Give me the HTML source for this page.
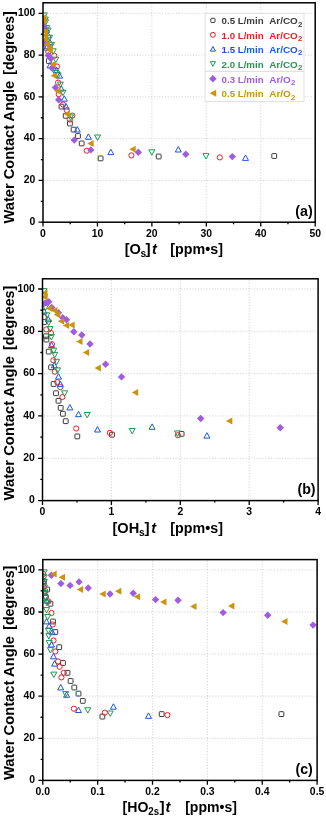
<!DOCTYPE html>
<html><head><meta charset="utf-8"><title>Water contact angle</title>
<style>html,body{margin:0;padding:0;background:#fff;}svg{display:block;font-family:'Liberation Sans', Arial, sans-serif;}</style>
</head><body>
<svg width="326" height="817" viewBox="0 0 326 817">
<rect width="326" height="817" fill="#fff"/>
<path d="M97.44 3.80V221.20M151.88 3.80V221.20M206.32 3.80V221.20M260.76 3.80V221.20M44.50 180.42H313.70M44.50 138.64H313.70M44.50 96.86H313.70M44.50 55.08H313.70M44.50 13.30H313.70" stroke="#cdcdcd" stroke-width="0.9" stroke-dasharray="1.1 1.7" fill="none"/>
<clipPath id="ca"><rect x="43.20" y="2.80" width="271.80" height="219.40"/></clipPath>
<g clip-path="url(#ca)">
<rect x="45.10" y="43.60" width="4.80" height="4.80" rx="0.6" fill="none" stroke="#3a3a3a" stroke-width="1.0"/>
<rect x="46.50" y="58.60" width="4.80" height="4.80" rx="0.6" fill="none" stroke="#3a3a3a" stroke-width="1.0"/>
<rect x="59.10" y="104.20" width="4.80" height="4.80" rx="0.6" fill="none" stroke="#3a3a3a" stroke-width="1.0"/>
<rect x="63.30" y="113.40" width="4.80" height="4.80" rx="0.6" fill="none" stroke="#3a3a3a" stroke-width="1.0"/>
<rect x="67.50" y="121.10" width="4.80" height="4.80" rx="0.6" fill="none" stroke="#3a3a3a" stroke-width="1.0"/>
<rect x="71.20" y="127.20" width="4.80" height="4.80" rx="0.6" fill="none" stroke="#3a3a3a" stroke-width="1.0"/>
<rect x="75.60" y="133.60" width="4.80" height="4.80" rx="0.6" fill="none" stroke="#3a3a3a" stroke-width="1.0"/>
<rect x="79.30" y="141.00" width="4.80" height="4.80" rx="0.6" fill="none" stroke="#3a3a3a" stroke-width="1.0"/>
<rect x="98.20" y="156.00" width="4.80" height="4.80" rx="0.6" fill="none" stroke="#3a3a3a" stroke-width="1.0"/>
<rect x="156.30" y="154.10" width="4.80" height="4.80" rx="0.6" fill="none" stroke="#3a3a3a" stroke-width="1.0"/>
<rect x="271.80" y="153.60" width="4.80" height="4.80" rx="0.6" fill="none" stroke="#3a3a3a" stroke-width="1.0"/>
<circle cx="44.50" cy="30.00" r="2.60" fill="none" stroke="#f01c24" stroke-width="1.0"/>
<circle cx="48.30" cy="52.00" r="2.60" fill="none" stroke="#f01c24" stroke-width="1.0"/>
<circle cx="54.30" cy="55.80" r="2.60" fill="none" stroke="#f01c24" stroke-width="1.0"/>
<circle cx="57.00" cy="66.50" r="2.60" fill="none" stroke="#f01c24" stroke-width="1.0"/>
<circle cx="58.10" cy="82.60" r="2.60" fill="none" stroke="#f01c24" stroke-width="1.0"/>
<circle cx="58.70" cy="94.20" r="2.60" fill="none" stroke="#f01c24" stroke-width="1.0"/>
<circle cx="63.00" cy="104.50" r="2.60" fill="none" stroke="#f01c24" stroke-width="1.0"/>
<circle cx="66.80" cy="110.20" r="2.60" fill="none" stroke="#f01c24" stroke-width="1.0"/>
<circle cx="72.30" cy="115.60" r="2.60" fill="none" stroke="#f01c24" stroke-width="1.0"/>
<circle cx="69.90" cy="119.50" r="2.60" fill="none" stroke="#f01c24" stroke-width="1.0"/>
<circle cx="86.80" cy="150.70" r="2.60" fill="none" stroke="#f01c24" stroke-width="1.0"/>
<circle cx="131.40" cy="155.40" r="2.60" fill="none" stroke="#f01c24" stroke-width="1.0"/>
<circle cx="219.80" cy="157.40" r="2.60" fill="none" stroke="#f01c24" stroke-width="1.0"/>
<path d="M46.60 26.90L49.60 32.30L43.60 32.30Z" fill="none" stroke="#1b55e0" stroke-width="1.0" stroke-linejoin="round"/>
<path d="M48.20 32.50L51.20 37.90L45.20 37.90Z" fill="none" stroke="#1b55e0" stroke-width="1.0" stroke-linejoin="round"/>
<path d="M49.80 39.30L52.80 44.70L46.80 44.70Z" fill="none" stroke="#1b55e0" stroke-width="1.0" stroke-linejoin="round"/>
<path d="M46.60 44.70L49.60 50.10L43.60 50.10Z" fill="none" stroke="#1b55e0" stroke-width="1.0" stroke-linejoin="round"/>
<path d="M50.00 62.50L53.00 67.90L47.00 67.90Z" fill="none" stroke="#1b55e0" stroke-width="1.0" stroke-linejoin="round"/>
<path d="M56.60 67.00L59.60 72.40L53.60 72.40Z" fill="none" stroke="#1b55e0" stroke-width="1.0" stroke-linejoin="round"/>
<path d="M59.60 72.70L62.60 78.10L56.60 78.10Z" fill="none" stroke="#1b55e0" stroke-width="1.0" stroke-linejoin="round"/>
<path d="M61.20 85.70L64.20 91.10L58.20 91.10Z" fill="none" stroke="#1b55e0" stroke-width="1.0" stroke-linejoin="round"/>
<path d="M64.30 95.80L67.30 101.20L61.30 101.20Z" fill="none" stroke="#1b55e0" stroke-width="1.0" stroke-linejoin="round"/>
<path d="M66.10 103.60L69.10 109.00L63.10 109.00Z" fill="none" stroke="#1b55e0" stroke-width="1.0" stroke-linejoin="round"/>
<path d="M77.30 126.60L80.30 132.00L74.30 132.00Z" fill="none" stroke="#1b55e0" stroke-width="1.0" stroke-linejoin="round"/>
<path d="M88.40 133.90L91.40 139.30L85.40 139.30Z" fill="none" stroke="#1b55e0" stroke-width="1.0" stroke-linejoin="round"/>
<path d="M110.80 149.20L113.80 154.60L107.80 154.60Z" fill="none" stroke="#1b55e0" stroke-width="1.0" stroke-linejoin="round"/>
<path d="M178.30 146.60L181.30 152.00L175.30 152.00Z" fill="none" stroke="#1b55e0" stroke-width="1.0" stroke-linejoin="round"/>
<path d="M245.50 155.00L248.50 160.40L242.50 160.40Z" fill="none" stroke="#1b55e0" stroke-width="1.0" stroke-linejoin="round"/>
<path d="M44.30 18.30L47.30 12.90L41.30 12.90Z" fill="none" stroke="#1e9a50" stroke-width="1.0" stroke-linejoin="round"/>
<path d="M45.40 22.50L48.40 17.10L42.40 17.10Z" fill="none" stroke="#1e9a50" stroke-width="1.0" stroke-linejoin="round"/>
<path d="M45.60 25.20L48.60 19.80L42.60 19.80Z" fill="none" stroke="#1e9a50" stroke-width="1.0" stroke-linejoin="round"/>
<path d="M46.80 31.00L49.80 25.60L43.80 25.60Z" fill="none" stroke="#1e9a50" stroke-width="1.0" stroke-linejoin="round"/>
<path d="M48.00 33.50L51.00 28.10L45.00 28.10Z" fill="none" stroke="#1e9a50" stroke-width="1.0" stroke-linejoin="round"/>
<path d="M49.60 40.70L52.60 35.30L46.60 35.30Z" fill="none" stroke="#1e9a50" stroke-width="1.0" stroke-linejoin="round"/>
<path d="M51.60 47.80L54.60 42.40L48.60 42.40Z" fill="none" stroke="#1e9a50" stroke-width="1.0" stroke-linejoin="round"/>
<path d="M53.20 54.20L56.20 48.80L50.20 48.80Z" fill="none" stroke="#1e9a50" stroke-width="1.0" stroke-linejoin="round"/>
<path d="M55.80 62.60L58.80 57.20L52.80 57.20Z" fill="none" stroke="#1e9a50" stroke-width="1.0" stroke-linejoin="round"/>
<path d="M55.20 75.80L58.20 70.40L52.20 70.40Z" fill="none" stroke="#1e9a50" stroke-width="1.0" stroke-linejoin="round"/>
<path d="M58.10 78.30L61.10 72.90L55.10 72.90Z" fill="none" stroke="#1e9a50" stroke-width="1.0" stroke-linejoin="round"/>
<path d="M60.40 87.50L63.40 82.10L57.40 82.10Z" fill="none" stroke="#1e9a50" stroke-width="1.0" stroke-linejoin="round"/>
<path d="M63.00 95.60L66.00 90.20L60.00 90.20Z" fill="none" stroke="#1e9a50" stroke-width="1.0" stroke-linejoin="round"/>
<path d="M70.60 120.30L73.60 114.90L67.60 114.90Z" fill="none" stroke="#1e9a50" stroke-width="1.0" stroke-linejoin="round"/>
<path d="M97.60 140.40L100.60 135.00L94.60 135.00Z" fill="none" stroke="#1e9a50" stroke-width="1.0" stroke-linejoin="round"/>
<path d="M151.80 155.20L154.80 149.80L148.80 149.80Z" fill="none" stroke="#1e9a50" stroke-width="1.0" stroke-linejoin="round"/>
<path d="M206.00 159.00L209.00 153.60L203.00 153.60Z" fill="none" stroke="#1e9a50" stroke-width="1.0" stroke-linejoin="round"/>
<path d="M43.90 22.80L47.60 26.50L43.90 30.20L40.20 26.50Z" fill="#a15be0"/>
<path d="M44.40 39.30L48.10 43.00L44.40 46.70L40.70 43.00Z" fill="#a15be0"/>
<path d="M48.30 51.80L52.00 55.50L48.30 59.20L44.60 55.50Z" fill="#a15be0"/>
<path d="M50.80 54.80L54.50 58.50L50.80 62.20L47.10 58.50Z" fill="#a15be0"/>
<path d="M52.00 64.30L55.70 68.00L52.00 71.70L48.30 68.00Z" fill="#a15be0"/>
<path d="M55.40 83.90L59.10 87.60L55.40 91.30L51.70 87.60Z" fill="#a15be0"/>
<path d="M58.70 96.00L62.40 99.70L58.70 103.40L55.00 99.70Z" fill="#a15be0"/>
<path d="M74.30 136.40L78.00 140.10L74.30 143.80L70.60 140.10Z" fill="#a15be0"/>
<path d="M90.80 146.20L94.50 149.90L90.80 153.60L87.10 149.90Z" fill="#a15be0"/>
<path d="M138.30 148.50L142.00 152.20L138.30 155.90L134.60 152.20Z" fill="#a15be0"/>
<path d="M185.80 150.60L189.50 154.30L185.80 158.00L182.10 154.30Z" fill="#a15be0"/>
<path d="M232.30 152.90L236.00 156.60L232.30 160.30L228.60 156.60Z" fill="#a15be0"/>
<path d="M40.10 17.50L46.50 14.00L46.50 21.00Z" fill="#cd930b"/>
<path d="M40.10 21.20L46.50 17.70L46.50 24.70Z" fill="#cd930b"/>
<path d="M41.20 31.50L47.60 28.00L47.60 35.00Z" fill="#cd930b"/>
<path d="M41.50 35.50L47.90 32.00L47.90 39.00Z" fill="#cd930b"/>
<path d="M41.90 39.30L48.30 35.80L48.30 42.80Z" fill="#cd930b"/>
<path d="M43.60 44.50L50.00 41.00L50.00 48.00Z" fill="#cd930b"/>
<path d="M46.00 48.40L52.40 44.90L52.40 51.90Z" fill="#cd930b"/>
<path d="M46.40 50.20L52.80 46.70L52.80 53.70Z" fill="#cd930b"/>
<path d="M49.50 64.20L55.90 60.70L55.90 67.70Z" fill="#cd930b"/>
<path d="M50.70 75.70L57.10 72.20L57.10 79.20Z" fill="#cd930b"/>
<path d="M54.10 91.00L60.50 87.50L60.50 94.50Z" fill="#cd930b"/>
<path d="M63.40 114.00L69.80 110.50L69.80 117.50Z" fill="#cd930b"/>
<path d="M87.20 143.50L93.60 140.00L93.60 147.00Z" fill="#cd930b"/>
<path d="M129.30 149.20L135.70 145.70L135.70 152.70Z" fill="#cd930b"/>
</g>
<rect x="43.00" y="2.80" width="272.20" height="219.40" fill="none" stroke="#000" stroke-width="1.5"/>
<path d="M43.00 222.20v4.3M97.44 222.20v4.3M151.88 222.20v4.3M206.32 222.20v4.3M260.76 222.20v4.3M315.20 222.20v4.3M70.22 222.20v2M124.66 222.20v2M179.10 222.20v2M233.54 222.20v2M287.98 222.20v2M43.00 222.20h-4.4M43.00 180.42h-4.4M43.00 138.64h-4.4M43.00 96.86h-4.4M43.00 55.08h-4.4M43.00 13.30h-4.4M43.00 201.31h-2.2M43.00 159.53h-2.2M43.00 117.75h-2.2M43.00 75.97h-2.2M43.00 34.19h-2.2" stroke="#000" stroke-width="1.3" fill="none"/>
<text x="43.00" y="236.70" font-size="10.4" text-anchor="middle" font-weight="bold" fill="#000" >0</text>
<text x="97.44" y="236.70" font-size="10.4" text-anchor="middle" font-weight="bold" fill="#000" >10</text>
<text x="151.88" y="236.70" font-size="10.4" text-anchor="middle" font-weight="bold" fill="#000" >20</text>
<text x="206.32" y="236.70" font-size="10.4" text-anchor="middle" font-weight="bold" fill="#000" >30</text>
<text x="260.76" y="236.70" font-size="10.4" text-anchor="middle" font-weight="bold" fill="#000" >40</text>
<text x="315.20" y="236.70" font-size="10.4" text-anchor="middle" font-weight="bold" fill="#000" >50</text>
<text x="35.30" y="224.85" font-size="10.4" text-anchor="end" font-weight="bold" fill="#000" >0</text>
<text x="35.30" y="183.07" font-size="10.4" text-anchor="end" font-weight="bold" fill="#000" >20</text>
<text x="35.30" y="141.29" font-size="10.4" text-anchor="end" font-weight="bold" fill="#000" >40</text>
<text x="35.30" y="99.51" font-size="10.4" text-anchor="end" font-weight="bold" fill="#000" >60</text>
<text x="35.30" y="57.73" font-size="10.4" text-anchor="end" font-weight="bold" fill="#000" >80</text>
<text x="35.30" y="15.95" font-size="10.4" text-anchor="end" font-weight="bold" fill="#000" >100</text>
<text transform="translate(13.9 223.50) rotate(-90)" font-size="15.3" font-weight="bold" textLength="142.70" lengthAdjust="spacingAndGlyphs">Water Contact Angle</text>
<text transform="translate(13.9 74.70) rotate(-90)" font-size="15.3" font-weight="bold" textLength="63.50" lengthAdjust="spacingAndGlyphs">[degrees]</text>
<text x="312.7" y="216.3" font-size="14.2" text-anchor="end" font-weight="bold" fill="#000" >(a)</text>
<text x="124.7" y="254.0" font-size="15.3" font-weight="bold" textLength="16.2" lengthAdjust="spacingAndGlyphs">[O</text><text x="140.4" y="257.2" font-size="10.2" font-weight="bold">s</text><text x="145.5" y="254.0" font-size="15.3" font-weight="bold">]</text><text x="152.0" y="254.0" font-size="14.6" font-weight="bold" font-style="italic">t</text><text x="170.3" y="254.0" font-size="15.3" font-weight="bold" textLength="52.6" lengthAdjust="spacingAndGlyphs">[ppm•s]</text>
<path d="M111.40 279.80V499.60M180.30 279.80V499.60M249.20 279.80V499.60M44.00 458.28H316.60M44.00 415.96H316.60M44.00 373.64H316.60M44.00 331.32H316.60M44.00 289.00H316.60" stroke="#cdcdcd" stroke-width="0.9" stroke-dasharray="1.1 1.7" fill="none"/>
<clipPath id="cb"><rect x="42.70" y="278.80" width="275.20" height="221.80"/></clipPath>
<g clip-path="url(#cb)">
<rect x="41.70" y="319.60" width="4.80" height="4.80" rx="0.6" fill="none" stroke="#3a3a3a" stroke-width="1.0"/>
<rect x="43.60" y="333.90" width="4.80" height="4.80" rx="0.6" fill="none" stroke="#3a3a3a" stroke-width="1.0"/>
<rect x="44.00" y="337.20" width="4.80" height="4.80" rx="0.6" fill="none" stroke="#3a3a3a" stroke-width="1.0"/>
<rect x="46.30" y="349.20" width="4.80" height="4.80" rx="0.6" fill="none" stroke="#3a3a3a" stroke-width="1.0"/>
<rect x="48.70" y="364.90" width="4.80" height="4.80" rx="0.6" fill="none" stroke="#3a3a3a" stroke-width="1.0"/>
<rect x="51.20" y="381.60" width="4.80" height="4.80" rx="0.6" fill="none" stroke="#3a3a3a" stroke-width="1.0"/>
<rect x="53.60" y="390.80" width="4.80" height="4.80" rx="0.6" fill="none" stroke="#3a3a3a" stroke-width="1.0"/>
<rect x="56.10" y="398.40" width="4.80" height="4.80" rx="0.6" fill="none" stroke="#3a3a3a" stroke-width="1.0"/>
<rect x="58.30" y="405.50" width="4.80" height="4.80" rx="0.6" fill="none" stroke="#3a3a3a" stroke-width="1.0"/>
<rect x="60.50" y="411.40" width="4.80" height="4.80" rx="0.6" fill="none" stroke="#3a3a3a" stroke-width="1.0"/>
<rect x="63.30" y="418.80" width="4.80" height="4.80" rx="0.6" fill="none" stroke="#3a3a3a" stroke-width="1.0"/>
<rect x="74.90" y="434.00" width="4.80" height="4.80" rx="0.6" fill="none" stroke="#3a3a3a" stroke-width="1.0"/>
<rect x="109.60" y="432.30" width="4.80" height="4.80" rx="0.6" fill="none" stroke="#3a3a3a" stroke-width="1.0"/>
<rect x="179.20" y="431.40" width="4.80" height="4.80" rx="0.6" fill="none" stroke="#3a3a3a" stroke-width="1.0"/>
<circle cx="44.10" cy="317.00" r="2.60" fill="none" stroke="#f01c24" stroke-width="1.0"/>
<circle cx="46.40" cy="329.40" r="2.60" fill="none" stroke="#f01c24" stroke-width="1.0"/>
<circle cx="51.00" cy="333.10" r="2.60" fill="none" stroke="#f01c24" stroke-width="1.0"/>
<circle cx="52.00" cy="344.20" r="2.60" fill="none" stroke="#f01c24" stroke-width="1.0"/>
<circle cx="53.30" cy="360.30" r="2.60" fill="none" stroke="#f01c24" stroke-width="1.0"/>
<circle cx="54.80" cy="371.70" r="2.60" fill="none" stroke="#f01c24" stroke-width="1.0"/>
<circle cx="57.30" cy="382.20" r="2.60" fill="none" stroke="#f01c24" stroke-width="1.0"/>
<circle cx="60.30" cy="387.10" r="2.60" fill="none" stroke="#f01c24" stroke-width="1.0"/>
<circle cx="62.40" cy="397.00" r="2.60" fill="none" stroke="#f01c24" stroke-width="1.0"/>
<circle cx="76.20" cy="428.50" r="2.60" fill="none" stroke="#f01c24" stroke-width="1.0"/>
<circle cx="109.90" cy="432.90" r="2.60" fill="none" stroke="#f01c24" stroke-width="1.0"/>
<circle cx="177.90" cy="435.20" r="2.60" fill="none" stroke="#f01c24" stroke-width="1.0"/>
<path d="M44.10 308.50L47.10 313.90L41.10 313.90Z" fill="none" stroke="#1b55e0" stroke-width="1.0" stroke-linejoin="round"/>
<path d="M48.30 316.30L51.30 321.70L45.30 321.70Z" fill="none" stroke="#1b55e0" stroke-width="1.0" stroke-linejoin="round"/>
<path d="M51.50 342.10L54.50 347.50L48.50 347.50Z" fill="none" stroke="#1b55e0" stroke-width="1.0" stroke-linejoin="round"/>
<path d="M54.30 362.40L57.30 367.80L51.30 367.80Z" fill="none" stroke="#1b55e0" stroke-width="1.0" stroke-linejoin="round"/>
<path d="M58.50 373.70L61.50 379.10L55.50 379.10Z" fill="none" stroke="#1b55e0" stroke-width="1.0" stroke-linejoin="round"/>
<path d="M60.30 381.00L63.30 386.40L57.30 386.40Z" fill="none" stroke="#1b55e0" stroke-width="1.0" stroke-linejoin="round"/>
<path d="M69.90 404.50L72.90 409.90L66.90 409.90Z" fill="none" stroke="#1b55e0" stroke-width="1.0" stroke-linejoin="round"/>
<path d="M78.50 411.30L81.50 416.70L75.50 416.70Z" fill="none" stroke="#1b55e0" stroke-width="1.0" stroke-linejoin="round"/>
<path d="M97.50 426.60L100.50 432.00L94.50 432.00Z" fill="none" stroke="#1b55e0" stroke-width="1.0" stroke-linejoin="round"/>
<path d="M152.10 423.90L155.10 429.30L149.10 429.30Z" fill="none" stroke="#1b55e0" stroke-width="1.0" stroke-linejoin="round"/>
<path d="M206.90 432.70L209.90 438.10L203.90 438.10Z" fill="none" stroke="#1b55e0" stroke-width="1.0" stroke-linejoin="round"/>
<path d="M44.00 294.00L47.00 288.60L41.00 288.60Z" fill="none" stroke="#1e9a50" stroke-width="1.0" stroke-linejoin="round"/>
<path d="M45.50 310.40L48.50 305.00L42.50 305.00Z" fill="none" stroke="#1e9a50" stroke-width="1.0" stroke-linejoin="round"/>
<path d="M46.90 318.20L49.90 312.80L43.90 312.80Z" fill="none" stroke="#1e9a50" stroke-width="1.0" stroke-linejoin="round"/>
<path d="M48.70 325.50L51.70 320.10L45.70 320.10Z" fill="none" stroke="#1e9a50" stroke-width="1.0" stroke-linejoin="round"/>
<path d="M50.10 332.00L53.10 326.60L47.10 326.60Z" fill="none" stroke="#1e9a50" stroke-width="1.0" stroke-linejoin="round"/>
<path d="M51.30 340.00L54.30 334.60L48.30 334.60Z" fill="none" stroke="#1e9a50" stroke-width="1.0" stroke-linejoin="round"/>
<path d="M53.80 353.60L56.80 348.20L50.80 348.20Z" fill="none" stroke="#1e9a50" stroke-width="1.0" stroke-linejoin="round"/>
<path d="M54.70 357.80L57.70 352.40L51.70 352.40Z" fill="none" stroke="#1e9a50" stroke-width="1.0" stroke-linejoin="round"/>
<path d="M56.60 364.70L59.60 359.30L53.60 359.30Z" fill="none" stroke="#1e9a50" stroke-width="1.0" stroke-linejoin="round"/>
<path d="M57.60 373.30L60.60 367.90L54.60 367.90Z" fill="none" stroke="#1e9a50" stroke-width="1.0" stroke-linejoin="round"/>
<path d="M64.60 396.20L67.60 390.80L61.60 390.80Z" fill="none" stroke="#1e9a50" stroke-width="1.0" stroke-linejoin="round"/>
<path d="M87.20 417.90L90.20 412.50L84.20 412.50Z" fill="none" stroke="#1e9a50" stroke-width="1.0" stroke-linejoin="round"/>
<path d="M132.20 433.90L135.20 428.50L129.20 428.50Z" fill="none" stroke="#1e9a50" stroke-width="1.0" stroke-linejoin="round"/>
<path d="M177.40 436.30L180.40 430.90L174.40 430.90Z" fill="none" stroke="#1e9a50" stroke-width="1.0" stroke-linejoin="round"/>
<path d="M44.90 299.60L48.60 303.30L44.90 307.00L41.20 303.30Z" fill="#a15be0"/>
<path d="M46.60 298.90L50.30 302.60L46.60 306.30L42.90 302.60Z" fill="#a15be0"/>
<path d="M48.70 298.10L52.40 301.80L48.70 305.50L45.00 301.80Z" fill="#a15be0"/>
<path d="M51.80 303.80L55.50 307.50L51.80 311.20L48.10 307.50Z" fill="#a15be0"/>
<path d="M58.40 309.00L62.10 312.70L58.40 316.40L54.70 312.70Z" fill="#a15be0"/>
<path d="M62.80 314.10L66.50 317.80L62.80 321.50L59.10 317.80Z" fill="#a15be0"/>
<path d="M66.50 316.10L70.20 319.80L66.50 323.50L62.80 319.80Z" fill="#a15be0"/>
<path d="M73.80 328.10L77.50 331.80L73.80 335.50L70.10 331.80Z" fill="#a15be0"/>
<path d="M81.80 331.30L85.50 335.00L81.80 338.70L78.10 335.00Z" fill="#a15be0"/>
<path d="M90.00 340.30L93.70 344.00L90.00 347.70L86.30 344.00Z" fill="#a15be0"/>
<path d="M105.60 360.50L109.30 364.20L105.60 367.90L101.90 364.20Z" fill="#a15be0"/>
<path d="M121.50 373.20L125.20 376.90L121.50 380.60L117.80 376.90Z" fill="#a15be0"/>
<path d="M200.70 414.80L204.40 418.50L200.70 422.20L197.00 418.50Z" fill="#a15be0"/>
<path d="M280.20 424.10L283.90 427.80L280.20 431.50L276.50 427.80Z" fill="#a15be0"/>
<path d="M41.10 293.00L47.50 289.50L47.50 296.50Z" fill="#cd930b"/>
<path d="M41.30 297.00L47.70 293.50L47.70 300.50Z" fill="#cd930b"/>
<path d="M46.00 308.50L52.40 305.00L52.40 312.00Z" fill="#cd930b"/>
<path d="M51.10 310.40L57.50 306.90L57.50 313.90Z" fill="#cd930b"/>
<path d="M53.80 314.80L60.20 311.30L60.20 318.30Z" fill="#cd930b"/>
<path d="M57.80 321.30L64.20 317.80L64.20 324.80Z" fill="#cd930b"/>
<path d="M62.80 325.50L69.20 322.00L69.20 329.00Z" fill="#cd930b"/>
<path d="M68.30 325.10L74.70 321.60L74.70 328.60Z" fill="#cd930b"/>
<path d="M76.10 341.60L82.50 338.10L82.50 345.10Z" fill="#cd930b"/>
<path d="M82.80 352.40L89.20 348.90L89.20 355.90Z" fill="#cd930b"/>
<path d="M94.50 367.90L100.90 364.40L100.90 371.40Z" fill="#cd930b"/>
<path d="M131.80 392.40L138.20 388.90L138.20 395.90Z" fill="#cd930b"/>
<path d="M225.90 421.10L232.30 417.60L232.30 424.60Z" fill="#cd930b"/>
</g>
<rect x="42.50" y="278.80" width="275.60" height="221.80" fill="none" stroke="#000" stroke-width="1.5"/>
<path d="M42.50 500.60v4.3M111.40 500.60v4.3M180.30 500.60v4.3M249.20 500.60v4.3M318.10 500.60v4.3M76.95 500.60v2M145.85 500.60v2M214.75 500.60v2M283.65 500.60v2M42.50 500.60h-4.4M42.50 458.28h-4.4M42.50 415.96h-4.4M42.50 373.64h-4.4M42.50 331.32h-4.4M42.50 289.00h-4.4M42.50 479.44h-2.2M42.50 437.12h-2.2M42.50 394.80h-2.2M42.50 352.48h-2.2M42.50 310.16h-2.2" stroke="#000" stroke-width="1.3" fill="none"/>
<text x="42.50" y="515.10" font-size="10.4" text-anchor="middle" font-weight="bold" fill="#000" >0</text>
<text x="111.40" y="515.10" font-size="10.4" text-anchor="middle" font-weight="bold" fill="#000" >1</text>
<text x="180.30" y="515.10" font-size="10.4" text-anchor="middle" font-weight="bold" fill="#000" >2</text>
<text x="249.20" y="515.10" font-size="10.4" text-anchor="middle" font-weight="bold" fill="#000" >3</text>
<text x="318.10" y="515.10" font-size="10.4" text-anchor="middle" font-weight="bold" fill="#000" >4</text>
<text x="34.80" y="503.25" font-size="10.4" text-anchor="end" font-weight="bold" fill="#000" >0</text>
<text x="34.80" y="460.93" font-size="10.4" text-anchor="end" font-weight="bold" fill="#000" >20</text>
<text x="34.80" y="418.61" font-size="10.4" text-anchor="end" font-weight="bold" fill="#000" >40</text>
<text x="34.80" y="376.29" font-size="10.4" text-anchor="end" font-weight="bold" fill="#000" >60</text>
<text x="34.80" y="333.97" font-size="10.4" text-anchor="end" font-weight="bold" fill="#000" >80</text>
<text x="34.80" y="291.65" font-size="10.4" text-anchor="end" font-weight="bold" fill="#000" >100</text>
<text transform="translate(13.9 500.50) rotate(-90)" font-size="15.3" font-weight="bold" textLength="144.38" lengthAdjust="spacingAndGlyphs">Water Contact Angle</text>
<text transform="translate(13.9 349.93) rotate(-90)" font-size="15.3" font-weight="bold" textLength="64.23" lengthAdjust="spacingAndGlyphs">[degrees]</text>
<text x="315.6" y="494.4" font-size="14.2" text-anchor="end" font-weight="bold" fill="#000" >(b)</text>
<text x="112.5" y="532.7" font-size="15.3" font-weight="bold" textLength="26.8" lengthAdjust="spacingAndGlyphs">[OH</text><text x="138.9" y="535.9000000000001" font-size="10.2" font-weight="bold">s</text><text x="144.5" y="532.7" font-size="15.3" font-weight="bold">]</text><text x="151.2" y="532.7" font-size="14.6" font-weight="bold" font-style="italic">t</text><text x="170.3" y="532.7" font-size="15.3" font-weight="bold" textLength="52.6" lengthAdjust="spacingAndGlyphs">[ppm•s]</text>
<path d="M97.66 560.60V779.40M152.52 560.60V779.40M207.38 560.60V779.40M262.24 560.60V779.40M44.30 738.30H315.60M44.30 696.20H315.60M44.30 654.10H315.60M44.30 612.00H315.60M44.30 569.90H315.60" stroke="#cdcdcd" stroke-width="0.9" stroke-dasharray="1.1 1.7" fill="none"/>
<clipPath id="cc"><rect x="43.00" y="559.60" width="273.90" height="220.80"/></clipPath>
<g clip-path="url(#cc)">
<rect x="41.40" y="578.60" width="4.80" height="4.80" rx="0.6" fill="none" stroke="#3a3a3a" stroke-width="1.0"/>
<rect x="44.80" y="587.10" width="4.80" height="4.80" rx="0.6" fill="none" stroke="#3a3a3a" stroke-width="1.0"/>
<rect x="48.00" y="601.40" width="4.80" height="4.80" rx="0.6" fill="none" stroke="#3a3a3a" stroke-width="1.0"/>
<rect x="50.60" y="619.10" width="4.80" height="4.80" rx="0.6" fill="none" stroke="#3a3a3a" stroke-width="1.0"/>
<rect x="52.90" y="629.60" width="4.80" height="4.80" rx="0.6" fill="none" stroke="#3a3a3a" stroke-width="1.0"/>
<rect x="56.80" y="644.80" width="4.80" height="4.80" rx="0.6" fill="none" stroke="#3a3a3a" stroke-width="1.0"/>
<rect x="60.60" y="660.60" width="4.80" height="4.80" rx="0.6" fill="none" stroke="#3a3a3a" stroke-width="1.0"/>
<rect x="65.10" y="670.40" width="4.80" height="4.80" rx="0.6" fill="none" stroke="#3a3a3a" stroke-width="1.0"/>
<rect x="68.20" y="678.60" width="4.80" height="4.80" rx="0.6" fill="none" stroke="#3a3a3a" stroke-width="1.0"/>
<rect x="71.90" y="685.10" width="4.80" height="4.80" rx="0.6" fill="none" stroke="#3a3a3a" stroke-width="1.0"/>
<rect x="76.10" y="691.20" width="4.80" height="4.80" rx="0.6" fill="none" stroke="#3a3a3a" stroke-width="1.0"/>
<rect x="80.40" y="698.50" width="4.80" height="4.80" rx="0.6" fill="none" stroke="#3a3a3a" stroke-width="1.0"/>
<rect x="100.00" y="714.20" width="4.80" height="4.80" rx="0.6" fill="none" stroke="#3a3a3a" stroke-width="1.0"/>
<rect x="159.30" y="711.70" width="4.80" height="4.80" rx="0.6" fill="none" stroke="#3a3a3a" stroke-width="1.0"/>
<rect x="279.00" y="711.70" width="4.80" height="4.80" rx="0.6" fill="none" stroke="#3a3a3a" stroke-width="1.0"/>
<circle cx="43.40" cy="574.00" r="2.60" fill="none" stroke="#f01c24" stroke-width="1.0"/>
<circle cx="43.40" cy="584.00" r="2.60" fill="none" stroke="#f01c24" stroke-width="1.0"/>
<circle cx="45.20" cy="591.00" r="2.60" fill="none" stroke="#f01c24" stroke-width="1.0"/>
<circle cx="46.00" cy="597.00" r="2.60" fill="none" stroke="#f01c24" stroke-width="1.0"/>
<circle cx="48.50" cy="601.50" r="2.60" fill="none" stroke="#f01c24" stroke-width="1.0"/>
<circle cx="51.50" cy="613.00" r="2.60" fill="none" stroke="#f01c24" stroke-width="1.0"/>
<circle cx="52.70" cy="624.50" r="2.60" fill="none" stroke="#f01c24" stroke-width="1.0"/>
<circle cx="53.50" cy="640.50" r="2.60" fill="none" stroke="#f01c24" stroke-width="1.0"/>
<circle cx="55.30" cy="651.50" r="2.60" fill="none" stroke="#f01c24" stroke-width="1.0"/>
<circle cx="58.10" cy="661.40" r="2.60" fill="none" stroke="#f01c24" stroke-width="1.0"/>
<circle cx="59.60" cy="666.80" r="2.60" fill="none" stroke="#f01c24" stroke-width="1.0"/>
<circle cx="63.80" cy="672.80" r="2.60" fill="none" stroke="#f01c24" stroke-width="1.0"/>
<circle cx="61.40" cy="677.40" r="2.60" fill="none" stroke="#f01c24" stroke-width="1.0"/>
<circle cx="73.90" cy="708.70" r="2.60" fill="none" stroke="#f01c24" stroke-width="1.0"/>
<circle cx="104.80" cy="712.70" r="2.60" fill="none" stroke="#f01c24" stroke-width="1.0"/>
<circle cx="167.40" cy="715.10" r="2.60" fill="none" stroke="#f01c24" stroke-width="1.0"/>
<path d="M43.60 578.50L46.60 583.90L40.60 583.90Z" fill="none" stroke="#1b55e0" stroke-width="1.0" stroke-linejoin="round"/>
<path d="M45.00 590.00L48.00 595.40L42.00 595.40Z" fill="none" stroke="#1b55e0" stroke-width="1.0" stroke-linejoin="round"/>
<path d="M46.60 597.60L49.60 603.00L43.60 603.00Z" fill="none" stroke="#1b55e0" stroke-width="1.0" stroke-linejoin="round"/>
<path d="M46.50 618.50L49.50 623.90L43.50 623.90Z" fill="none" stroke="#1b55e0" stroke-width="1.0" stroke-linejoin="round"/>
<path d="M49.20 623.00L52.20 628.40L46.20 628.40Z" fill="none" stroke="#1b55e0" stroke-width="1.0" stroke-linejoin="round"/>
<path d="M52.30 629.30L55.30 634.70L49.30 634.70Z" fill="none" stroke="#1b55e0" stroke-width="1.0" stroke-linejoin="round"/>
<path d="M51.50 641.60L54.50 647.00L48.50 647.00Z" fill="none" stroke="#1b55e0" stroke-width="1.0" stroke-linejoin="round"/>
<path d="M53.50 653.40L56.50 658.80L50.50 658.80Z" fill="none" stroke="#1b55e0" stroke-width="1.0" stroke-linejoin="round"/>
<path d="M54.60 660.70L57.60 666.10L51.60 666.10Z" fill="none" stroke="#1b55e0" stroke-width="1.0" stroke-linejoin="round"/>
<path d="M60.70 684.50L63.70 689.90L57.70 689.90Z" fill="none" stroke="#1b55e0" stroke-width="1.0" stroke-linejoin="round"/>
<path d="M66.60 691.90L69.60 697.30L63.60 697.30Z" fill="none" stroke="#1b55e0" stroke-width="1.0" stroke-linejoin="round"/>
<path d="M78.50 707.10L81.50 712.50L75.50 712.50Z" fill="none" stroke="#1b55e0" stroke-width="1.0" stroke-linejoin="round"/>
<path d="M113.40 703.80L116.40 709.20L110.40 709.20Z" fill="none" stroke="#1b55e0" stroke-width="1.0" stroke-linejoin="round"/>
<path d="M148.50 712.90L151.50 718.30L145.50 718.30Z" fill="none" stroke="#1b55e0" stroke-width="1.0" stroke-linejoin="round"/>
<path d="M44.20 575.30L47.20 569.90L41.20 569.90Z" fill="none" stroke="#1e9a50" stroke-width="1.0" stroke-linejoin="round"/>
<path d="M44.20 580.30L47.20 574.90L41.20 574.90Z" fill="none" stroke="#1e9a50" stroke-width="1.0" stroke-linejoin="round"/>
<path d="M44.30 585.00L47.30 579.60L41.30 579.60Z" fill="none" stroke="#1e9a50" stroke-width="1.0" stroke-linejoin="round"/>
<path d="M44.50 590.50L47.50 585.10L41.50 585.10Z" fill="none" stroke="#1e9a50" stroke-width="1.0" stroke-linejoin="round"/>
<path d="M44.80 596.00L47.80 590.60L41.80 590.60Z" fill="none" stroke="#1e9a50" stroke-width="1.0" stroke-linejoin="round"/>
<path d="M45.50 600.50L48.50 595.10L42.50 595.10Z" fill="none" stroke="#1e9a50" stroke-width="1.0" stroke-linejoin="round"/>
<path d="M46.90 605.70L49.90 600.30L43.90 600.30Z" fill="none" stroke="#1e9a50" stroke-width="1.0" stroke-linejoin="round"/>
<path d="M46.50 613.00L49.50 607.60L43.50 607.60Z" fill="none" stroke="#1e9a50" stroke-width="1.0" stroke-linejoin="round"/>
<path d="M47.70 619.90L50.70 614.50L44.70 614.50Z" fill="none" stroke="#1e9a50" stroke-width="1.0" stroke-linejoin="round"/>
<path d="M48.40 633.50L51.40 628.10L45.40 628.10Z" fill="none" stroke="#1e9a50" stroke-width="1.0" stroke-linejoin="round"/>
<path d="M48.80 639.00L51.80 633.60L45.80 633.60Z" fill="none" stroke="#1e9a50" stroke-width="1.0" stroke-linejoin="round"/>
<path d="M49.20 646.00L52.20 640.60L46.20 640.60Z" fill="none" stroke="#1e9a50" stroke-width="1.0" stroke-linejoin="round"/>
<path d="M50.40 653.00L53.40 647.60L47.40 647.60Z" fill="none" stroke="#1e9a50" stroke-width="1.0" stroke-linejoin="round"/>
<path d="M53.80 677.50L56.80 672.10L50.80 672.10Z" fill="none" stroke="#1e9a50" stroke-width="1.0" stroke-linejoin="round"/>
<path d="M65.70 697.00L68.70 691.60L62.70 691.60Z" fill="none" stroke="#1e9a50" stroke-width="1.0" stroke-linejoin="round"/>
<path d="M87.80 713.10L90.80 707.70L84.80 707.70Z" fill="none" stroke="#1e9a50" stroke-width="1.0" stroke-linejoin="round"/>
<path d="M110.20 716.40L113.20 711.00L107.20 711.00Z" fill="none" stroke="#1e9a50" stroke-width="1.0" stroke-linejoin="round"/>
<path d="M51.30 571.60L55.00 575.30L51.30 579.00L47.60 575.30Z" fill="#a15be0"/>
<path d="M60.90 579.90L64.60 583.60L60.90 587.30L57.20 583.60Z" fill="#a15be0"/>
<path d="M70.10 581.70L73.80 585.40L70.10 589.10L66.40 585.40Z" fill="#a15be0"/>
<path d="M79.00 578.20L82.70 581.90L79.00 585.60L75.30 581.90Z" fill="#a15be0"/>
<path d="M88.20 584.30L91.90 588.00L88.20 591.70L84.50 588.00Z" fill="#a15be0"/>
<path d="M110.00 590.30L113.70 594.00L110.00 597.70L106.30 594.00Z" fill="#a15be0"/>
<path d="M133.20 589.60L136.90 593.30L133.20 597.00L129.50 593.30Z" fill="#a15be0"/>
<path d="M155.60 595.90L159.30 599.60L155.60 603.30L151.90 599.60Z" fill="#a15be0"/>
<path d="M178.00 596.60L181.70 600.30L178.00 604.00L174.30 600.30Z" fill="#a15be0"/>
<path d="M223.10 608.90L226.80 612.60L223.10 616.30L219.40 612.60Z" fill="#a15be0"/>
<path d="M267.70 611.60L271.40 615.30L267.70 619.00L264.00 615.30Z" fill="#a15be0"/>
<path d="M313.10 621.40L316.80 625.10L313.10 628.80L309.40 625.10Z" fill="#a15be0"/>
<path d="M50.30 574.10L56.70 570.60L56.70 577.60Z" fill="#cd930b"/>
<path d="M58.60 577.20L65.00 573.70L65.00 580.70Z" fill="#cd930b"/>
<path d="M76.70 589.50L83.10 586.00L83.10 593.00Z" fill="#cd930b"/>
<path d="M99.30 594.00L105.70 590.50L105.70 597.50Z" fill="#cd930b"/>
<path d="M115.00 591.20L121.40 587.70L121.40 594.70Z" fill="#cd930b"/>
<path d="M133.70 596.70L140.10 593.20L140.10 600.20Z" fill="#cd930b"/>
<path d="M160.10 601.90L166.50 598.40L166.50 605.40Z" fill="#cd930b"/>
<path d="M190.10 606.50L196.50 603.00L196.50 610.00Z" fill="#cd930b"/>
<path d="M227.90 605.90L234.30 602.40L234.30 609.40Z" fill="#cd930b"/>
<path d="M281.10 621.60L287.50 618.10L287.50 625.10Z" fill="#cd930b"/>
</g>
<rect x="42.80" y="559.60" width="274.30" height="220.80" fill="none" stroke="#000" stroke-width="1.5"/>
<path d="M42.80 780.40v4.3M97.66 780.40v4.3M152.52 780.40v4.3M207.38 780.40v4.3M262.24 780.40v4.3M317.10 780.40v4.3M70.23 780.40v2M125.09 780.40v2M179.95 780.40v2M234.81 780.40v2M289.67 780.40v2M42.80 780.40h-4.4M42.80 738.30h-4.4M42.80 696.20h-4.4M42.80 654.10h-4.4M42.80 612.00h-4.4M42.80 569.90h-4.4M42.80 759.35h-2.2M42.80 717.25h-2.2M42.80 675.15h-2.2M42.80 633.05h-2.2M42.80 590.95h-2.2" stroke="#000" stroke-width="1.3" fill="none"/>
<text x="42.80" y="794.90" font-size="10.4" text-anchor="middle" font-weight="bold" fill="#000" >0.0</text>
<text x="97.66" y="794.90" font-size="10.4" text-anchor="middle" font-weight="bold" fill="#000" >0.1</text>
<text x="152.52" y="794.90" font-size="10.4" text-anchor="middle" font-weight="bold" fill="#000" >0.2</text>
<text x="207.38" y="794.90" font-size="10.4" text-anchor="middle" font-weight="bold" fill="#000" >0.3</text>
<text x="262.24" y="794.90" font-size="10.4" text-anchor="middle" font-weight="bold" fill="#000" >0.4</text>
<text x="317.10" y="794.90" font-size="10.4" text-anchor="middle" font-weight="bold" fill="#000" >0.5</text>
<text x="35.10" y="783.05" font-size="10.4" text-anchor="end" font-weight="bold" fill="#000" >0</text>
<text x="35.10" y="740.95" font-size="10.4" text-anchor="end" font-weight="bold" fill="#000" >20</text>
<text x="35.10" y="698.85" font-size="10.4" text-anchor="end" font-weight="bold" fill="#000" >40</text>
<text x="35.10" y="656.75" font-size="10.4" text-anchor="end" font-weight="bold" fill="#000" >60</text>
<text x="35.10" y="614.65" font-size="10.4" text-anchor="end" font-weight="bold" fill="#000" >80</text>
<text x="35.10" y="572.55" font-size="10.4" text-anchor="end" font-weight="bold" fill="#000" >100</text>
<text transform="translate(13.9 780.10) rotate(-90)" font-size="15.3" font-weight="bold" textLength="144.11" lengthAdjust="spacingAndGlyphs">Water Contact Angle</text>
<text transform="translate(13.9 629.82) rotate(-90)" font-size="15.3" font-weight="bold" textLength="64.12" lengthAdjust="spacingAndGlyphs">[degrees]</text>
<text x="312.8" y="773.6" font-size="14.2" text-anchor="end" font-weight="bold" fill="#000" >(c)</text>
<text x="122.6" y="811.7" font-size="15.3" font-weight="bold" textLength="25.8" lengthAdjust="spacingAndGlyphs">[HO</text><text x="148.3" y="814.9000000000001" font-size="10.2" font-weight="bold" textLength="10.8" lengthAdjust="spacingAndGlyphs">2s</text><text x="159.6" y="811.7" font-size="15.3" font-weight="bold">]</text><text x="165.5" y="811.7" font-size="14.6" font-weight="bold" font-style="italic">t</text><text x="185.2" y="811.7" font-size="15.3" font-weight="bold" textLength="51.8" lengthAdjust="spacingAndGlyphs">[ppm•s]</text>
<rect x="205.1" y="13.5" width="98.9" height="88" fill="#fff" stroke="#dedede" stroke-width="0.9"/>
<path d="M205.1 71.4H304" stroke="#d8d8d8" stroke-width="0.9"/>
<rect x="210.84" y="18.34" width="4.13" height="4.13" rx="0.6" fill="none" stroke="#3a3a3a" stroke-width="1.0"/>
<text x="221.6" y="24.40" font-size="9.5" font-weight="bold" fill="#3a3a3a" textLength="42.0" lengthAdjust="spacingAndGlyphs">0.5 L/min</text>
<text x="269.2" y="24.40" font-size="9.5" font-weight="bold" fill="#3a3a3a" textLength="28.6" lengthAdjust="spacingAndGlyphs">Ar/CO</text>
<text x="298.00" y="26.60" font-size="7.8" font-weight="bold" fill="#3a3a3a">2</text>
<circle cx="212.90" cy="34.80" r="2.47" fill="none" stroke="#f01c24" stroke-width="1.0"/>
<text x="221.6" y="38.80" font-size="9.5" font-weight="bold" fill="#f01c24" textLength="42.0" lengthAdjust="spacingAndGlyphs">1.0 L/min</text>
<text x="269.2" y="38.80" font-size="9.5" font-weight="bold" fill="#f01c24" textLength="28.6" lengthAdjust="spacingAndGlyphs">Ar/CO</text>
<text x="298.00" y="41.00" font-size="7.8" font-weight="bold" fill="#f01c24">2</text>
<path d="M212.90 46.48L215.48 51.12L210.32 51.12Z" fill="none" stroke="#1b55e0" stroke-width="1.0" stroke-linejoin="round"/>
<text x="221.6" y="53.10" font-size="9.5" font-weight="bold" fill="#1b55e0" textLength="42.0" lengthAdjust="spacingAndGlyphs">1.5 L/min</text>
<text x="269.2" y="53.10" font-size="9.5" font-weight="bold" fill="#1b55e0" textLength="28.6" lengthAdjust="spacingAndGlyphs">Ar/CO</text>
<text x="298.00" y="55.30" font-size="7.8" font-weight="bold" fill="#1b55e0">2</text>
<path d="M212.90 66.32L215.48 61.68L210.32 61.68Z" fill="none" stroke="#1e9a50" stroke-width="1.0" stroke-linejoin="round"/>
<text x="221.6" y="67.70" font-size="9.5" font-weight="bold" fill="#1e9a50" textLength="42.0" lengthAdjust="spacingAndGlyphs">2.0 L/min</text>
<text x="269.2" y="67.70" font-size="9.5" font-weight="bold" fill="#1e9a50" textLength="28.6" lengthAdjust="spacingAndGlyphs">Ar/CO</text>
<text x="298.00" y="69.90" font-size="7.8" font-weight="bold" fill="#1e9a50">2</text>
<path d="M212.90 75.00L216.60 78.70L212.90 82.40L209.20 78.70Z" fill="#a15be0"/>
<text x="221.6" y="82.70" font-size="9.5" font-weight="bold" fill="#a15be0" textLength="42.0" lengthAdjust="spacingAndGlyphs">0.3 L/min</text>
<text x="269.2" y="82.70" font-size="9.5" font-weight="bold" fill="#a15be0" textLength="21.6" lengthAdjust="spacingAndGlyphs">Ar/O</text>
<text x="291.00" y="84.90" font-size="7.8" font-weight="bold" fill="#a15be0">2</text>
<path d="M209.70 93.30L216.10 89.80L216.10 96.80Z" fill="#cd930b"/>
<text x="221.6" y="97.30" font-size="9.5" font-weight="bold" fill="#cd930b" textLength="42.0" lengthAdjust="spacingAndGlyphs">0.5 L/min</text>
<text x="269.2" y="97.30" font-size="9.5" font-weight="bold" fill="#cd930b" textLength="21.6" lengthAdjust="spacingAndGlyphs">Ar/O</text>
<text x="291.00" y="99.50" font-size="7.8" font-weight="bold" fill="#cd930b">2</text>
</svg>
</body></html>
